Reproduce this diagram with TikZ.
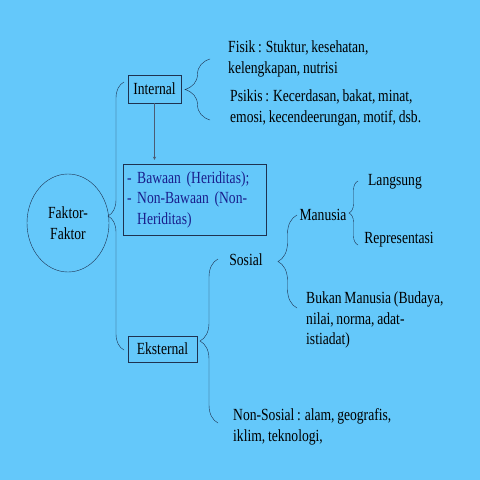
\documentclass[tikz,border=0pt]{standalone}
\usepackage{fontspec}
\setmainfont{Liberation Serif}[FakeStretch=0.8, WordSpace=0.8]
\usepackage{xcolor}
\usepackage{tikz}
\usetikzlibrary{shapes.geometric, arrows, positioning, decorations.pathreplacing}
\definecolor{slidebg}{RGB}{100,200,250}
\definecolor{linecol}{RGB}{30,50,80}
\definecolor{bluetext}{RGB}{25,30,140}
\tikzstyle{box} = [rectangle, draw=linecol, inner sep=4pt]
\tikzstyle{txt} = [align=left, inner sep=0pt, anchor=west]
\tikzstyle{brace} = [draw=linecol, decorate, decoration={brace}]
\tikzstyle{arrow} = [draw=linecol!80, ->, >=stealth]

\begin{document}
\begin{tikzpicture}[x=1pt, y=-1pt, font=\fontsize{17}{20.5}\selectfont]
    \useasboundingbox[fill=slidebg] (0,0) rectangle (480,480);

    % Root
    \node[ellipse, draw=linecol, minimum width=82pt, minimum height=98pt, align=center, inner sep=0pt] (faktor) at (68,223) {Faktor-\\Faktor};

    % Internal / Eksternal
    \node[box, minimum width=53pt, minimum height=28pt] (internal) at (154.5,89) {Internal};
    \node[box, text=bluetext, align=left, text width=135pt, minimum height=71pt] (bawaan) at (194.5,199.5)
        {- Bawaan (Heriditas);\\- Non-Bawaan (Non-\\\phantom{- }Heriditas)};
    \node[box, minimum width=69pt, minimum height=26pt] (eksternal) at (162.5,349) {Eksternal};

    % Internal factors
    \node[txt] (fisik) at (228,59) {Fisik : Stuktur, kesehatan,\\kelengkapan, nutrisi};
    \node[txt] (psikis) at (230,108) {Psikis : Kecerdasan, bakat, minat,\\emosi, kecendeerungan, motif, dsb.};

    % External factors
    \node (sosial) at (246,260) {Sosial};
    \node[txt] (nonsosial) at (233,427) {Non-Sosial : alam, geografis,\\iklim, teknologi,};
    \node (manusia) at (323,215) {Manusia};
    \node[txt] (bukan) at (306,320) {Bukan Manusia (Budaya,\\nilai, norma, adat-\\istiadat)};
    \node (langsung) at (395,182) {Langsung};
    \node (representasi) at (399,240) {Representasi};

    % Brace ends
    \coordinate (faktortop) at (124,82);
    \coordinate (faktorbot) at (124,350);
    \coordinate (internaltop) at (210,59);
    \coordinate (internalbot) at (210,120);
    \coordinate (eksternaltop) at (218,259);
    \coordinate (eksternalbot) at (218,423);
    \coordinate (sosialtop) at (297,215);
    \coordinate (sosialbot) at (297,308);
    \coordinate (manusiatop) at (358,181);
    \coordinate (manusiabot) at (358,245);

    % Braces
    \draw[brace, decoration={amplitude=16pt}] (faktorbot) -- (faktortop);
    \draw[brace, decoration={amplitude=25pt}] (internalbot) -- (internaltop);
    \draw[brace, decoration={amplitude=18pt}] (eksternalbot) -- (eksternaltop);
    \draw[brace, decoration={amplitude=19pt}] (sosialbot) -- (sosialtop);
    \draw[brace, decoration={amplitude=9pt}] (manusiabot) -- (manusiatop);

    % Connections
    \draw[arrow, shorten >=4pt] (internal.south) -- (internal.south |- bawaan.north);

\end{tikzpicture}
\end{document}
